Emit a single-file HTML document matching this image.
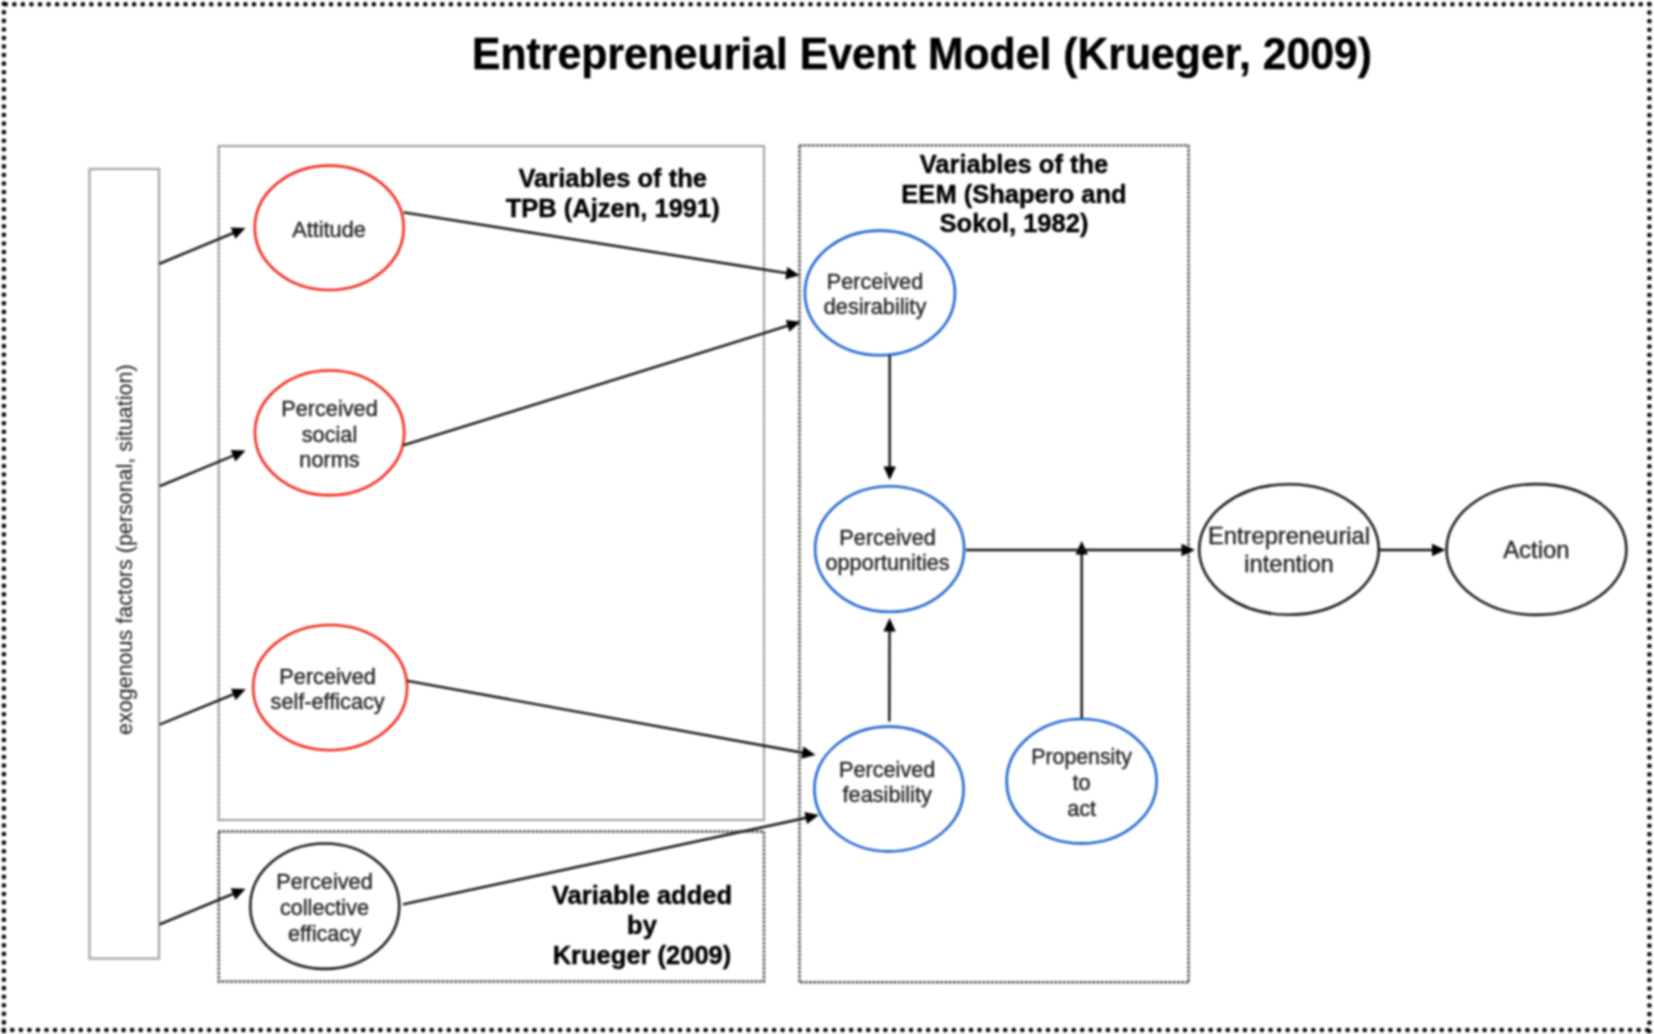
<!DOCTYPE html>
<html><head><meta charset="utf-8"><style>
html,body{margin:0;padding:0;background:#fff;}
body{width:1654px;height:1034px;overflow:hidden;}
#wrap{filter:blur(1px);width:1654px;height:1034px;}
svg{display:block;font-family:"Liberation Sans",sans-serif;}
</style></head><body><div id="wrap">
<svg width="1654" height="1034" viewBox="0 0 1654 1034">
<rect width="1654" height="1034" fill="#fff"/>
<g stroke="#000" stroke-width="4.6" stroke-linecap="round" stroke-dasharray="0 8.56" fill="none">
<line x1="5.75" y1="4.2" x2="1650" y2="4.2"/>
<line x1="3.9" y1="3.75" x2="3.9" y2="1032"/>
<line x1="1649.4" y1="4.05" x2="1649.4" y2="1032"/>
<line x1="3.7" y1="1030" x2="1650" y2="1030"/>
</g>
<rect x="89.5" y="169" width="69.5" height="789.5" fill="none" stroke="#a2a2a2" stroke-width="2.2"/>
<rect x="218.7" y="146" width="545.3" height="674" fill="none" stroke="#b0b0b0" stroke-width="2"/>
<rect x="218.7" y="146" width="545.3" height="674" fill="none" stroke="#808080" stroke-width="2" stroke-dasharray="1.6 2.6"/>
<rect x="218.8" y="831.5" width="545.2" height="150" fill="none" stroke="#c2c2c2" stroke-width="2.2"/>
<rect x="218.8" y="831.5" width="545.2" height="150" fill="none" stroke="#484848" stroke-width="2.4" stroke-dasharray="2.1 2.13"/>
<rect x="799.5" y="145.4" width="389.1" height="836.9" fill="none" stroke="#c2c2c2" stroke-width="2.2"/>
<rect x="799.5" y="145.4" width="389.1" height="836.9" fill="none" stroke="#484848" stroke-width="2.4" stroke-dasharray="2.1 2.13"/>
<ellipse cx="329.25" cy="227.8" rx="74.45" ry="62.2" fill="none" stroke="#f3281c" stroke-width="2.6"/>
<ellipse cx="329.6" cy="432.85" rx="74.6" ry="62.3" fill="none" stroke="#f3281c" stroke-width="2.6"/>
<ellipse cx="330.15" cy="687.6" rx="77" ry="62.6" fill="none" stroke="#f3281c" stroke-width="2.6"/>
<ellipse cx="324.75" cy="906.15" rx="74.5" ry="62.7" fill="none" stroke="#1e1e1e" stroke-width="2.6"/>
<ellipse cx="879.95" cy="292.9" rx="75" ry="62.3" fill="none" stroke="#2166cf" stroke-width="2.6"/>
<ellipse cx="889.65" cy="549" rx="74.5" ry="62.8" fill="none" stroke="#2166cf" stroke-width="2.6"/>
<ellipse cx="889" cy="789" rx="74.6" ry="62.4" fill="none" stroke="#2166cf" stroke-width="2.6"/>
<ellipse cx="1081.65" cy="781.2" rx="75" ry="62.2" fill="none" stroke="#2166cf" stroke-width="2.6"/>
<ellipse cx="1289" cy="549.5" rx="89.8" ry="65.3" fill="none" stroke="#1e1e1e" stroke-width="2.6"/>
<ellipse cx="1536.5" cy="549.5" rx="89.9" ry="65.4" fill="none" stroke="#1e1e1e" stroke-width="2.6"/>
<line x1="159.2" y1="263.8" x2="234.9" y2="232.3" stroke="#111" stroke-width="2.4"/>
<polygon points="245.5,227.9 235.4,238.8 230.7,227.4" fill="#000"/>
<line x1="159.8" y1="486.2" x2="234.9" y2="455.0" stroke="#111" stroke-width="2.4"/>
<polygon points="245.5,450.6 235.4,461.5 230.7,450.1" fill="#000"/>
<line x1="159.8" y1="724.5" x2="235.2" y2="693.7" stroke="#111" stroke-width="2.4"/>
<polygon points="245.8,689.3 235.7,700.2 231.0,688.7" fill="#000"/>
<line x1="159.6" y1="924.4" x2="234.9" y2="893.2" stroke="#111" stroke-width="2.4"/>
<polygon points="245.5,888.8 235.4,899.7 230.7,888.2" fill="#000"/>
<line x1="403.7" y1="212.4" x2="788.2" y2="273.4" stroke="#111" stroke-width="2.4"/>
<polygon points="799.6,275.2 785.3,279.2 787.2,267.0" fill="#000"/>
<line x1="403.0" y1="445.4" x2="789.5" y2="325.2" stroke="#111" stroke-width="2.4"/>
<polygon points="800.5,321.8 789.4,331.7 785.8,319.9" fill="#000"/>
<line x1="407.4" y1="680.9" x2="804.3" y2="753.0" stroke="#111" stroke-width="2.4"/>
<polygon points="815.6,755.1 801.2,758.8 803.4,746.6" fill="#000"/>
<line x1="403.0" y1="904.4" x2="807.7" y2="817.5" stroke="#111" stroke-width="2.4"/>
<polygon points="818.9,815.1 807.0,824.0 804.4,811.9" fill="#000"/>
<line x1="889.7" y1="355.5" x2="889.7" y2="468.5" stroke="#111" stroke-width="2.4"/>
<polygon points="889.7,480.0 883.5,466.5 895.9,466.5" fill="#000"/>
<line x1="889.3" y1="721.4" x2="889.6" y2="629.5" stroke="#111" stroke-width="2.4"/>
<polygon points="889.6,618.0 895.8,631.5 883.4,631.5" fill="#000"/>
<line x1="1081.7" y1="718.0" x2="1081.7" y2="552.5" stroke="#111" stroke-width="2.4"/>
<polygon points="1081.7,541.0 1087.9,554.5 1075.5,554.5" fill="#000"/>
<line x1="966.0" y1="550.0" x2="1183.5" y2="550.0" stroke="#111" stroke-width="2.4"/>
<polygon points="1195.0,550.0 1181.5,556.2 1181.5,543.8" fill="#000"/>
<line x1="1380.0" y1="550.0" x2="1434.0" y2="550.0" stroke="#111" stroke-width="2.4"/>
<polygon points="1445.5,550.0 1432.0,556.2 1432.0,543.8" fill="#000"/>
<text x="329" y="236.9" font-size="21.7" font-weight="normal" fill="#262626" stroke="#262626" stroke-width="0.4" text-anchor="middle" >Attitude</text>
<text x="329.5" y="416.3" font-size="21.7" font-weight="normal" fill="#262626" stroke="#262626" stroke-width="0.4" text-anchor="middle" >Perceived</text>
<text x="329.5" y="441.7" font-size="21.7" font-weight="normal" fill="#262626" stroke="#262626" stroke-width="0.4" text-anchor="middle" >social</text>
<text x="329.5" y="467.1" font-size="21.7" font-weight="normal" fill="#262626" stroke="#262626" stroke-width="0.4" text-anchor="middle" >norms</text>
<text x="327.6" y="683.8" font-size="21.7" font-weight="normal" fill="#262626" stroke="#262626" stroke-width="0.4" text-anchor="middle" >Perceived</text>
<text x="327.6" y="709.1" font-size="21.7" font-weight="normal" fill="#262626" stroke="#262626" stroke-width="0.4" text-anchor="middle" >self-efficacy</text>
<text x="324.5" y="889.2" font-size="21.7" font-weight="normal" fill="#262626" stroke="#262626" stroke-width="0.4" text-anchor="middle" >Perceived</text>
<text x="324.5" y="914.6" font-size="21.7" font-weight="normal" fill="#262626" stroke="#262626" stroke-width="0.4" text-anchor="middle" >collective</text>
<text x="324.5" y="940.7" font-size="21.7" font-weight="normal" fill="#262626" stroke="#262626" stroke-width="0.4" text-anchor="middle" >efficacy</text>
<text x="875" y="288.7" font-size="21.7" font-weight="normal" fill="#262626" stroke="#262626" stroke-width="0.4" text-anchor="middle" >Perceived</text>
<text x="875" y="314.1" font-size="21.7" font-weight="normal" fill="#262626" stroke="#262626" stroke-width="0.4" text-anchor="middle" >desirability</text>
<text x="887.6" y="545.2" font-size="21.7" font-weight="normal" fill="#262626" stroke="#262626" stroke-width="0.4" text-anchor="middle" >Perceived</text>
<text x="887.6" y="569.9" font-size="21.7" font-weight="normal" fill="#262626" stroke="#262626" stroke-width="0.4" text-anchor="middle" >opportunities</text>
<text x="887.2" y="776.5" font-size="21.7" font-weight="normal" fill="#262626" stroke="#262626" stroke-width="0.4" text-anchor="middle" >Perceived</text>
<text x="887.2" y="801.7" font-size="21.7" font-weight="normal" fill="#262626" stroke="#262626" stroke-width="0.4" text-anchor="middle" >feasibility</text>
<text x="1081.6" y="763.8" font-size="21.3" font-weight="normal" fill="#262626" stroke="#262626" stroke-width="0.4" text-anchor="middle" >Propensity</text>
<text x="1081.6" y="790.1" font-size="21.7" font-weight="normal" fill="#262626" stroke="#262626" stroke-width="0.4" text-anchor="middle" >to</text>
<text x="1081.6" y="815.5" font-size="21.7" font-weight="normal" fill="#262626" stroke="#262626" stroke-width="0.4" text-anchor="middle" >act</text>
<text x="1289" y="544" font-size="23.7" font-weight="normal" fill="#262626" stroke="#262626" stroke-width="0.4" text-anchor="middle" >Entrepreneurial</text>
<text x="1289" y="571.6" font-size="23.7" font-weight="normal" fill="#262626" stroke="#262626" stroke-width="0.4" text-anchor="middle" >intention</text>
<text x="1536.4" y="558.4" font-size="23.9" font-weight="normal" fill="#262626" stroke="#262626" stroke-width="0.4" text-anchor="middle" >Action</text>
<text x="612.7" y="187.4" font-size="25.5" font-weight="bold" fill="#000" stroke="#000" stroke-width="0.4" text-anchor="middle" >Variables of the</text>
<text x="612.7" y="217.2" font-size="25.5" font-weight="bold" fill="#000" stroke="#000" stroke-width="0.4" text-anchor="middle" >TPB (Ajzen, 1991)</text>
<text x="1014" y="172.7" font-size="25.5" font-weight="bold" fill="#000" stroke="#000" stroke-width="0.4" text-anchor="middle" >Variables of the</text>
<text x="1014" y="202.6" font-size="25.5" font-weight="bold" fill="#000" stroke="#000" stroke-width="0.4" text-anchor="middle" >EEM (Shapero and</text>
<text x="1014" y="232.4" font-size="25.5" font-weight="bold" fill="#000" stroke="#000" stroke-width="0.4" text-anchor="middle" >Sokol, 1982)</text>
<text x="642" y="903.8" font-size="25.5" font-weight="bold" fill="#000" stroke="#000" stroke-width="0.4" text-anchor="middle" >Variable added</text>
<text x="642" y="933.7" font-size="25.5" font-weight="bold" fill="#000" stroke="#000" stroke-width="0.4" text-anchor="middle" >by</text>
<text x="642" y="963.5" font-size="25.5" font-weight="bold" fill="#000" stroke="#000" stroke-width="0.4" text-anchor="middle" >Krueger (2009)</text>
<text x="0" y="0" font-size="43.6" font-weight="bold" fill="#000" stroke="#000" stroke-width="0.4" text-anchor="middle" transform="translate(922,69.3) scale(0.9805,1)">Entrepreneurial Event Model (Krueger, 2009)</text>
<text x="0" y="0" font-size="21.5" font-weight="normal" fill="#262626" stroke="#262626" stroke-width="0.1" text-anchor="middle" transform="translate(131.8,549.7) rotate(-90)">exogenous factors (personal, situation)</text>
</svg></div>
</body></html>
